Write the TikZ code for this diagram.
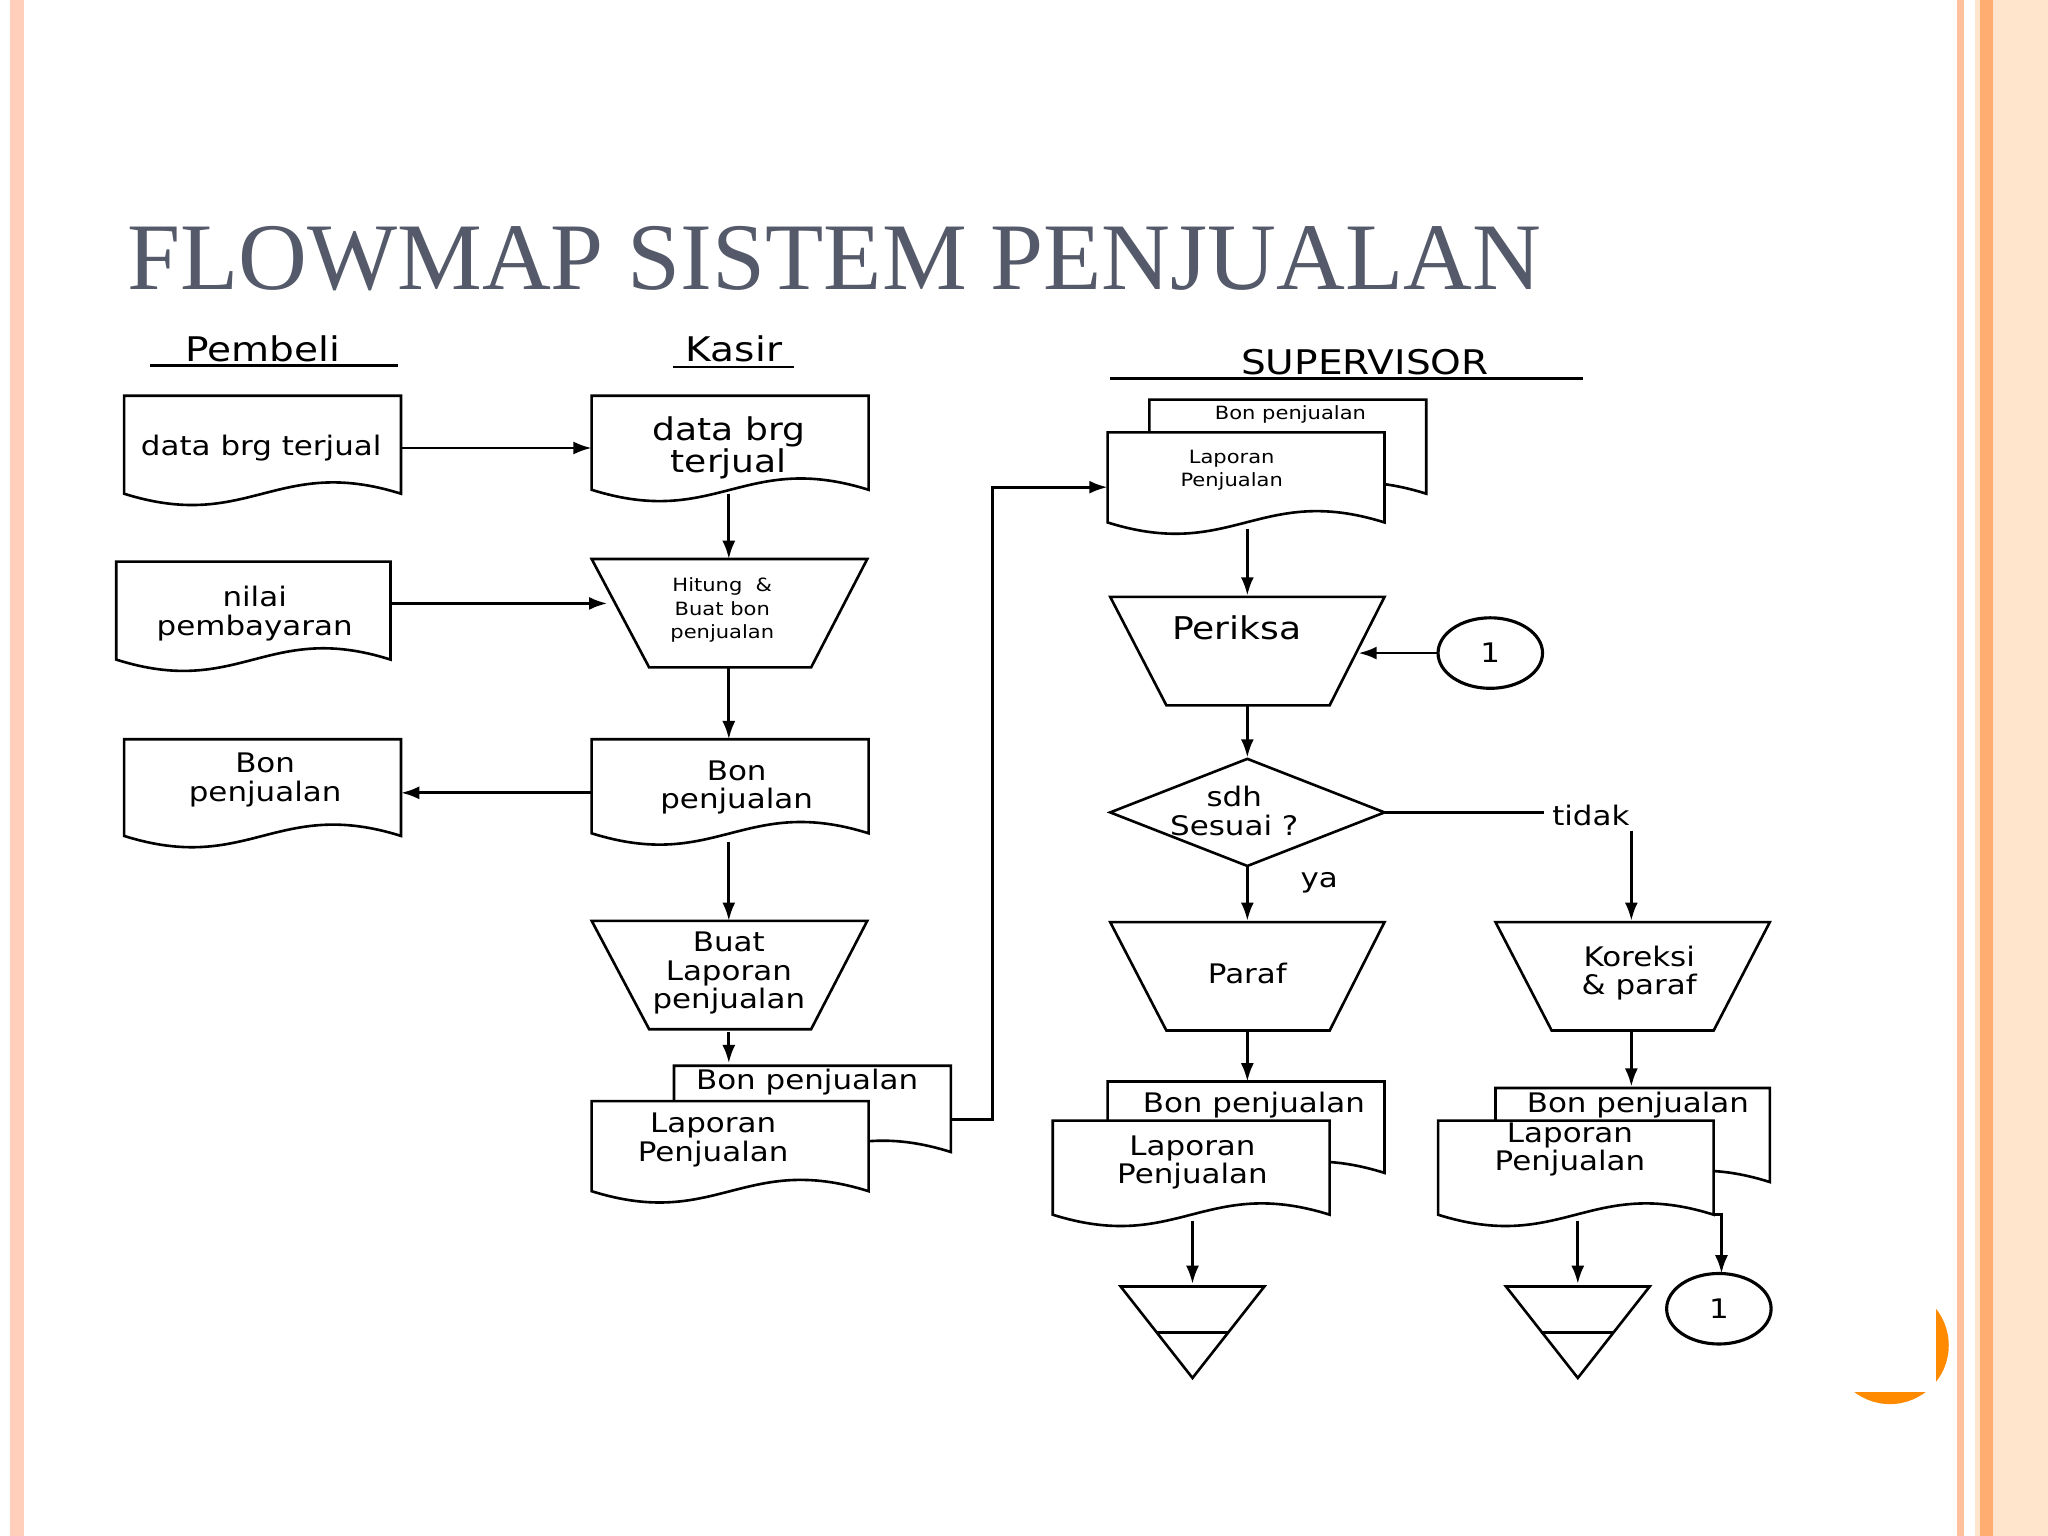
\documentclass[tikz,border=0pt]{standalone}
\usepackage{fontspec}
\setmainfont{Liberation Serif}
\newfontfamily\dv{DejaVu Sans}[FakeStretch=1.15]
\begin{document}
\begin{tikzpicture}[x=0.5pt,y=-0.5pt,
  box/.style={draw,line width=1pt,fill=white},
  ln/.style={line width=1.1pt},
  arr/.style={ln,-{Latex[length=7pt,width=5pt]}},
  t/.style={font=\dv\fontsize{10.3}{11}\selectfont,align=center,inner sep=0pt},
  tb/.style={font=\dv\fontsize{12}{12}\selectfont,align=center,inner sep=0pt},
  ts/.style={font=\dv\fontsize{7}{9}\selectfont,align=center,inner sep=0pt},
  hd/.style={font=\dv\fontsize{13}{14}\selectfont,inner sep=0pt}]
\usetikzlibrary{arrows.meta}
\newcommand\docshape[4]{\path[box] (#1,#2)--(#3,#2)--(#3,#4) .. controls ({#1+0.55*(#3-#1)},{#4-30}) and ({#1+0.45*(#3-#1)},{#4+30}) .. (#1,#4)--cycle;}
\newcommand\trap[6]{\path[box] (#1,#3)--(#2,#3)--(#5,#6)--(#4,#6)--cycle;}
% background
\fill[white] (0,0) rectangle (1568,1176);
\fill[orange!25!pink!60] (8,0) rectangle (18,1176);
\fill[orange!20!white] (1500,0) rectangle (1568,1176);
\fill[orange!40!pink!70] (1498,0) rectangle (1504,1176);
\fill[white] (1504,0) rectangle (1512,1176);
\fill[orange!60!pink!80] (1516,0) rectangle (1526,1176);
\fill[orange!80!yellow!90!red] (1447,1030) circle (45);
\fill[white] (1395,980) rectangle (1482,1066);
% title
\node[anchor=base west,inner sep=0pt,text={rgb,255:red,85;green,90;blue,106},font=\fontsize{36.5}{36}\selectfont] (title) at (97,222) {FLOWMAP SISTEM PENJUALAN};
% headers
\node[hd] (h1) at (201,267) {Pembeli};
\draw[ln] (115,280)--(305,280);
\node[hd] (h2) at (562,267) {Kasir};
\draw[ln] (515,281)--(608,281);
\node[hd] (h3) at (1045,277) {SUPERVISOR};
\draw[ln] (850,290)--(1212,290);
% Pembeli
\docshape{95}{303}{307}{378}\node[t] (d1) at (200,343) {data brg terjual};
\docshape{89}{430}{299}{505}\node[t] (d2) at (195,470) {nilai\\pembayaran};
\docshape{95}{566}{307}{640}\node[t] (d3) at (203,597) {Bon\\penjualan};
% Kasir
\docshape{453}{303}{665}{375}\node[tb] (k1) at (558,343) {data brg\\terjual};
\trap{453}{664}{428}{497}{621}{511}\node[ts] (k2) at (553,467) {Hitung \ \&\\Buat bon\\penjualan};
\docshape{453}{566}{665}{638}\node[t] (k3) at (564,603) {Bon\\penjualan};
\trap{453}{664}{705}{497}{621}{788}\node[t] (k4) at (558,745) {Buat\\Laporan\\penjualan};
\docshape{516}{816}{728}{882}\node[t,anchor=north] (k5b) at (618,818) {Bon penjualan};
\docshape{453}{843}{665}{912}\node[t] (k5) at (546,873) {Laporan\\Penjualan};
\draw[arr] (307,343)--(453,343);
\draw[arr] (299,462)--(465,462);
\draw[arr] (453,607)--(307,607);
\draw[arr] (558,378)--(558,428);
\draw[arr] (558,511)--(558,566);
\draw[arr] (558,645)--(558,705);
\draw[arr] (558,790)--(558,814);
\draw[arr] (728,857)--(760,857)--(760,373)--(848,373);
% Supervisor
\docshape{880}{306}{1092}{378}\node[ts,anchor=north] (s1b) at (988,310) {Bon penjualan};
\docshape{848}{331}{1060}{400}\node[ts] (s1) at (943,360) {Laporan\\Penjualan};
\draw[arr] (955,405)--(955,456);
\trap{850}{1060}{457}{893}{1018}{540}\node[tb] (s2) at (947,481) {Periksa};
\draw[line width=1.2pt] (1141,500) ellipse (40 and 27);\node[t] (c1) at (1141,500) {1};
\draw[arr] (1101,500)--(1040,500);
\draw[arr] (955,540)--(955,580);
\path[box] (850,622)--(955,581)--(1060,622)--(955,663)--cycle;
\node[t] (s3) at (945,621) {sdh\\Sesuai ?};
\draw[ln] (1060,622)--(1182,622);
\node[t] (tidak) at (1218,624) {tidak};
\draw[arr] (1249,636)--(1249,705);
\node[t] (ya) at (1010,676) {ya};
\draw[arr] (955,663)--(955,705);
\trap{850}{1060}{706}{893}{1018}{789}\node[t] (s4) at (955,745) {Paraf};
\trap{1145}{1355}{706}{1188}{1312}{789}\node[t] (s5) at (1255,745) {Koreksi\\\& paraf};
\draw[arr] (955,789)--(955,828);
\draw[arr] (1249,789)--(1249,832);
\docshape{848}{828}{1060}{898}\node[t,anchor=north] (s6b) at (960,836) {Bon penjualan};
\docshape{806}{858}{1018}{930}\node[t] (s6) at (913,890) {Laporan\\Penjualan};
\docshape{1145}{833}{1355}{905}\node[t,anchor=north] (s7b) at (1254,836) {Bon penjualan};
\docshape{1101}{858}{1312}{930}\node[t] (s7) at (1202,880) {Laporan\\Penjualan};
\draw[arr] (913,935)--(913,983);
\path[box] (858,985)--(968,985)--(913,1055)--cycle;
\draw[ln] (885,1020)--(941,1020);
\draw[arr] (1208,935)--(1208,983);
\path[box] (1153,985)--(1263,985)--(1208,1055)--cycle;
\draw[ln] (1180,1020)--(1236,1020);
\draw[arr] (1312,930)--(1318,930)--(1318,975);
\draw[line width=1.2pt] (1316,1002) ellipse (40 and 27);\node[t] (c2) at (1316,1002) {1};
\end{tikzpicture}
\end{document}
